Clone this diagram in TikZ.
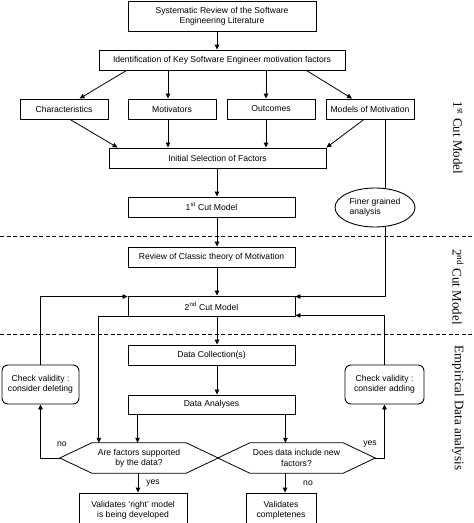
\documentclass[tikz,border=0pt]{standalone}
\usepackage{fontspec}
\setmainfont{Liberation Serif}
\setsansfont{Liberation Sans}
\usetikzlibrary{arrows.meta,shapes.geometric}

\tikzset{
  box/.style={draw, line width=0.9bp, minimum height=20bp, inner sep=1bp, align=center,
    font=\sffamily\fontsize{8.6bp}{10.2bp}\selectfont},
  rbox/.style={box, rounded corners=6bp},
  hexa/.style={minimum height=30bp, inner sep=0bp, align=center,
    font=\sffamily\fontsize{8.6bp}{10.2bp}\selectfont},
  cue/.style={inner sep=0bp, font=\sffamily\fontsize{8.6bp}{10.2bp}\selectfont},
  side/.style={rotate=-90, inner sep=0bp, font=\fontsize{13bp}{15bp}\selectfont},
  arr/.style={-{Triangle[length=5bp,width=4.5bp]}, line width=0.8bp},
  lin/.style={line width=0.8bp},
  sep/.style={dash pattern=on 4bp off 2.5bp, line width=0.8bp}
}

\begin{document}
\begin{tikzpicture}[x=1bp,y=-1bp]
    \useasboundingbox (0,0) rectangle (474,523);
    \coordinate (spine) at (217,0);
    \coordinate (fx) at (385,0);
    \node [box, minimum width=188bp, minimum height=30bp] (sys) at (222,16) {Systematic Review of the Software\\Engineering Literature};
    \node [box, minimum width=246bp] (idf) at (222,60) {Identification of Key Software Engineer motivation factors};
    \node [box, minimum width=88bp] (chr) at (64,109) {Characteristics};
    \node [box, minimum width=88bp] (mot) at (172,109) {Motivators};
    \node [box, minimum width=88bp] (out) at (271,109) {Outcomes};
    \node [box, minimum width=88bp] (mom) at (370,109) {Models of Motivation};
    \node [box, minimum width=217bp] (ini) at (217.5,158) {Initial Selection of Factors};
    \node [box, ellipse, minimum width=80bp, minimum height=39bp, inner sep=0bp, align=left] (ell) at (375,207.5) {Finer grained\\analysis};
    \node [box, minimum width=167bp] (c1) at (211.5,207) {1\textsuperscript{st} Cut Model};
    \node [box, minimum width=167bp] (rev) at (211.5,257) {Review of Classic theory of  Motivation};
    \node [box, minimum width=167bp] (c2) at (211.5,306) {2\textsuperscript{nd} Cut Model};
    \node [box, minimum width=167bp] (dc) at (211.5,355) {Data Collection(s)};
    \node [box, minimum width=167bp, minimum height=19bp] (da) at (211.5,404.5) {Data Analyses};
    \node [rbox, minimum width=77bp, minimum height=39bp] (chk1) at (40.5,384.5) {Check validity :\\consider deleting};
    \node [rbox, minimum width=79bp, minimum height=39bp] (chk2) at (384.5,384.5) {Check validity :\\consider adding};
    \node [hexa, minimum width=158bp] (q1) at (139,458) {Are factors supported\\by the data?};
    \node [hexa, minimum width=157bp] (q2) at (296.5,458) {Does data include new\\factors?};
    \node [box, minimum width=108bp, minimum height=34bp] (v1) at (133,510) {Validates `right' model\\is being developed};
    \node [box, minimum width=70bp, minimum height=34bp] (v2) at (281,510) {Validates\\completenes};
    \node [cue] (no1) at (62,444) {no};
    \node [cue] (yes1) at (370,444) {yes};
    \node [cue] (yes2) at (153,483) {yes};
    \node [cue] (no2) at (308,483) {no};
    \node [side] (lab1) at (458,138) {1\textsuperscript{st} Cut Model};
    \node [side] (lab2) at (458,287) {2\textsuperscript{nd} Cut Model};
    \node [side] (lab3) at (458,408) {Empirical Data analysis};
    \draw [lin] (q1.west) -- ([xshift=32bp]q1.north west) -- ([xshift=-32bp]q1.north east) -- (q1.east) -- ([xshift=-32bp]q1.south east) -- ([xshift=32bp]q1.south west) -- cycle;
    \draw [lin] (q2.west) -- ([xshift=32bp]q2.north west) -- ([xshift=-32bp]q2.north east) -- (q2.east) -- ([xshift=-32bp]q2.south east) -- ([xshift=32bp]q2.south west) -- cycle;
    \draw [sep] (0,236) -- (474,236);
    \draw [sep] (0,334) -- (474,334);
    \draw [arr] (sys.south -| spine) -- (idf.north -| spine);
    \draw [arr] ([xshift=28bp]idf.south west) -- ([xshift=60bp]chr.north west);
    \draw [arr] ([xshift=-4bp]idf.south -| mot.north) -- ([xshift=-4bp]mot.north);
    \draw [arr] ([xshift=-5bp]idf.south -| out.north) -- ([xshift=-5bp]out.north);
    \draw [arr] ([xshift=-39bp]idf.south east) -- ([xshift=-18bp]mom.north);
    \draw [arr] ([xshift=6bp]chr.south) -- ([xshift=9bp]ini.north west);
    \draw [arr] ([xshift=-4bp]mot.south) -- ([xshift=-4bp]ini.north -| mot.south);
    \draw [arr] ([xshift=-5bp]out.south) -- ([xshift=-5bp]ini.north -| out.south);
    \draw [arr] ([xshift=-6bp]mom.south) -- (ini.north east);
    \draw [lin] (mom.south -| fx) -- (ell.north -| fx);
    \draw [arr] (ini.south -| spine) -- (c1.north -| spine);
    \draw [arr] (c1.south -| spine) -- (rev.north -| spine);
    \draw [arr] (rev.south -| spine) -- (c2.north -| spine);
    \draw [arr] (ell.south -| fx) |- ([yshift=-1bp]c2.north east);
    \draw [arr] (chk1.north) |- ([yshift=-1bp]c2.north west);
    \draw [arr] (chk2.north) |- ([yshift=1bp]c2.south east);
    \draw [arr] (c2.south west) -| ([xshift=39bp]q1.north west);
    \draw [arr] (c2.south -| spine) -- (dc.north -| spine);
    \draw [arr] (dc.south -| spine) -- (da.north -| spine);
    \draw [arr] ([xshift=10bp]da.south west) -- ([xshift=10bp]q1.north -| da.south west);
    \draw [arr] ([xshift=-10bp]da.south east) -- ([xshift=-10bp]q2.north -| da.south east);
    \draw [arr] (q1.west) -| (chk1.south);
    \draw [arr] (q2.east) -| (chk2.south);
    \draw [arr] ([xshift=-1bp]q1.south) -- ([xshift=-1bp]v1.north -| q1.south);
    \draw [arr] ([xshift=-11.5bp]q2.south) -- ([xshift=-11.5bp]v2.north -| q2.south);
\end{tikzpicture}
\end{document}
